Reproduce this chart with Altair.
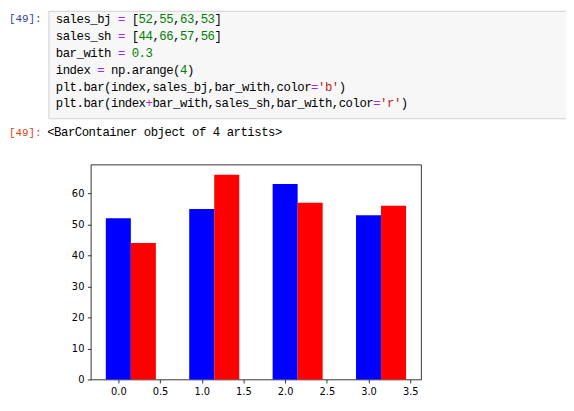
import re
import altair as alt
import pandas as pd

# notebook cell text
code_lines = [
    "sales_bj = [52,55,63,53]",
    "sales_sh = [44,66,57,56]",
    "bar_with = 0.3",
    "index = np.arange(4)",
    "plt.bar(index,sales_bj,bar_with,color='b')",
    "plt.bar(index+bar_with,sales_sh,bar_with,color='r')",
]
in_prompt = "[49]:"
out_prompt = "[49]:"
out_text = "<BarContainer object of 4 artists>"

# chart data
sales_bj = [52, 55, 63, 53]
sales_sh = [44, 66, 57, 56]
bar_with = 0.3
index = [0, 1, 2, 3]
x_ticks = [0.0, 0.5, 1.0, 1.5, 2.0, 2.5, 3.0, 3.5]
y_ticks = [0, 10, 20, 30, 40, 50, 60]

# page position of the axes frame; everything else is placed relative to it
OX, OY = 92, 164
CH = 7.0  # monospace advance in the notebook


def token_color(tok):
    if tok.startswith("'"):
        return "#ba2121"
    if tok[0].isdigit():
        return "#008000"
    if tok in ("=", "+"):
        return "#aa22ff"
    return "#000000"


rows = []
for i, line in enumerate(code_lines):
    for m in re.finditer(r"'[^']*'|\d+(?:\.\d+)?|.", line):
        col = token_color(m.group())
        for k, ch in enumerate(m.group()):
            c = m.start() + k
            rows.append({"ch": ch, "px": 56.7 + CH * c + CH / 2 - OX,
                         "py": 16.5 + 17.1 * i - OY, "col": col})
for c, ch in enumerate(out_text):
    rows.append({"ch": ch, "px": 48 + CH * c + CH / 2 - OX,
                 "py": 131.5 - OY, "col": "#000000"})
chars = pd.DataFrame(rows)

prompts = pd.DataFrame({
    "txt": [in_prompt, out_prompt],
    "px": [42 - OX, 42 - OX],
    "py": [16.5 - OY, 131.5 - OY],
    "col": ["#303f9f", "#d84315"],
})

bars = pd.DataFrame({
    "city": ["bj"] * 4 + ["sh"] * 4,
    "center": index + [i + bar_with for i in index],
    "sales": sales_bj + sales_sh,
})
bars["x0"] = bars["center"] - bar_with / 2
bars["x1"] = bars["center"] + bar_with / 2
bars["base"] = 0

lo, hi = bars["x0"].min(), bars["x1"].max()
xpad = 0.05 * (hi - lo)
ytop = bars["sales"].max() * 1.05

cell = alt.Chart(pd.DataFrame({"k": [0]})).mark_rect(
    fill="#f7f7f7", stroke="#cfcfcf", strokeWidth=1
).encode(
    x=alt.value(49.5 - OX), x2=alt.value(600 - OX),
    y=alt.value(8.5 - OY), y2=alt.value(117.5 - OY),
)

code = alt.Chart(chars).mark_text(
    font="Liberation Mono", fontSize=12.5, align="center", baseline="middle"
).encode(
    x=alt.X("px:Q", scale=None, axis=None),
    y=alt.Y("py:Q", scale=None, axis=None),
    text="ch:N",
    color=alt.Color("col:N", scale=None),
)

prompt_text = alt.Chart(prompts).mark_text(
    font="Liberation Mono", fontSize=11, align="right", baseline="middle"
).encode(
    x=alt.X("px:Q", scale=None, axis=None),
    y=alt.Y("py:Q", scale=None, axis=None),
    text="txt:N",
    color=alt.Color("col:N", scale=None),
)

bar_layer = alt.Chart(bars).mark_bar().encode(
    x=alt.X("x0:Q", scale=alt.Scale(domain=[lo - xpad, hi + xpad], nice=False, zero=False),
            axis=alt.Axis(values=x_ticks, format=".1f", title=None)),
    x2="x1:Q",
    y=alt.Y("sales:Q", scale=alt.Scale(domain=[0, ytop], nice=False),
            axis=alt.Axis(values=y_ticks, title=None)),
    y2="base:Q",
    color=alt.Color("city:N", scale=alt.Scale(domain=["bj", "sh"], range=["#0000ff", "#ff0000"]),
                    legend=None),
)

chart = alt.layer(cell, code, prompt_text, bar_layer).resolve_scale(
    x="independent", y="independent", color="independent"
).properties(
    width=335,
    height=218,
    autosize=alt.AutoSizeParams(type="none"),
    padding={"left": OX - 8, "top": OY - 8, "right": 566 - (OX - 8) - 335, "bottom": 395 - (OY - 8) - 218},
    background="white",
).configure_view(
    stroke="#000000", strokeWidth=0.8
).configure_axis(
    grid=False, domain=False, tickColor="#000000", tickSize=3.5, tickWidth=0.8,
    labelFont="DejaVu Sans", labelFontSize=10, labelColor="#000000", labelPadding=3.5,
)

chart.save("out.html", embed_options={"renderer": "svg", "actions": False})
